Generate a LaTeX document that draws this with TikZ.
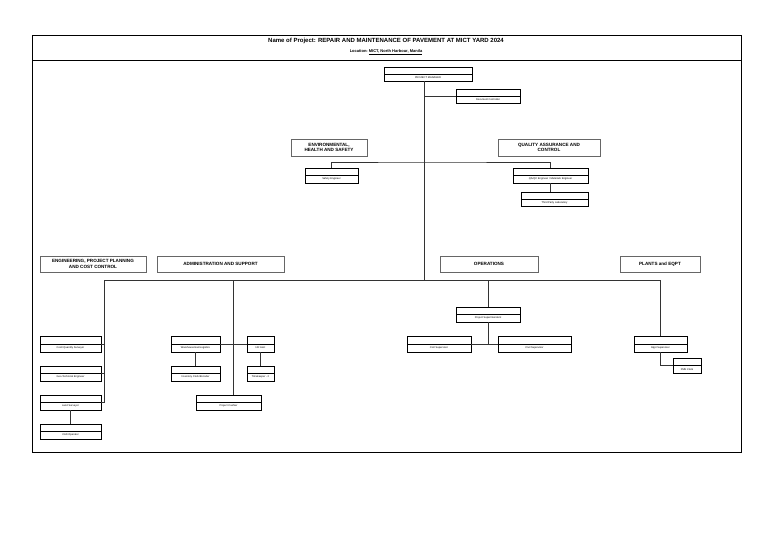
\documentclass[tikz,border=0pt]{standalone}
\usepackage{fontspec}
\setmainfont{Liberation Sans}
\usetikzlibrary{positioning}
\tikzset{
  staffbox/.style={draw, line width=.4pt, inner sep=0pt, path picture={
      \draw[line width=.3pt] (path picture bounding box.west) -- (path picture bounding box.east);}},
  stafftext/.style={font=\fontsize{2.6}{3}\selectfont, inner sep=0pt},
  headbox/.style={draw=gray!80!black, line width=.8pt, inner sep=1pt, align=center,
      font=\fontsize{4.6}{5.6}\selectfont\bfseries},
  link/.style={line width=.5pt, gray!40!black}
}
% box from (x1,y1) to (x2,y2), label in lower half
\newcommand\staff[6]{%
  \node[staffbox, minimum width=#4-#2, minimum height=#5-#3] (#1) at ({(#2+#4)/2},{(#3+#5)/2}) {};
  \node[stafftext] at ({(#2+#4)/2},{#3+(#5-#3)*.75}) {#6};}
\newcommand\head[6]{%
  \node[headbox, minimum width=#4-#2, minimum height=#5-#3] (#1) at ({(#2+#4)/2},{(#3+#5)/2}) {#6};}
\begin{document}
\begin{tikzpicture}[x=1pt, y=-1pt]
  \useasboundingbox (0,0) rectangle (768,543);
  \draw[line width=.8pt] (32,35) rectangle (741,452);
  \draw[line width=.5pt] (32,60) -- (741,60);
  \node[font=\fontsize{6}{7}\selectfont\bfseries] (title) at (386,41) {Name of Project: REPAIR AND MAINTENANCE OF PAVEMENT AT MICT YARD 2024};
  \node[font=\fontsize{4}{5}\selectfont\bfseries] (loc) at (386,52) {Location:\ \underline{MICT, North Harbour, Manila}};
  % top
  \staff{pm}{384}{67}{472}{81}{PROJECT MANAGER}
  \staff{doc}{456}{89}{520}{103}{Document Controller}
  \head{ehs}{291}{139}{367}{156}{ENVIRONMENTAL,\\HEALTH AND SAFETY}
  \head{qa}{498}{139}{600}{156}{QUALITY ASSURANCE AND\\CONTROL}
  \staff{safe}{305}{168}{358}{183}{Safety Engineer}
  \staff{qaqc}{513}{168}{588}{183}{QA/QC Engineer / Materials Engineer}
  \staff{lab}{521}{192}{588}{206}{Third Party Laboratory}
  % departments
  \head{eng}{40}{256}{146}{272}{ENGINEERING, PROJECT PLANNING\\AND COST CONTROL}
  \head{adm}{157}{256}{284}{272}{ADMINISTRATION AND SUPPORT}
  \head{ops}{440}{256}{538}{272}{OPERATIONS}
  \head{plt}{620}{256}{700}{272}{PLANTS and EQPT}
  % engineering
  \staff{qs}{40}{336}{101}{352}{Cost/ Quantity Surveyor}
  \staff{geo}{40}{366}{101}{381}{Geo-Technical Engineer}
  \staff{land}{40}{395}{101}{410}{Land Surveyor}
  \staff{cad}{40}{424}{101}{439}{CAD Operator}
  % admin
  \staff{ware}{171}{336}{220}{352}{Warehouseman/Logistics}
  \staff{hr}{247}{336}{274}{352}{HR Asst}
  \staff{inv}{171}{366}{220}{381}{Inventory Clerk/Encoder}
  \staff{time}{247}{366}{274}{381}{Timekeeper - 2}
  \staff{cash}{196}{395}{261}{410}{Project Cashier}
  % operations
  \staff{sup}{456}{307}{520}{322}{Project Superintendent}
  \staff{civa}{407}{336}{471}{352}{Civil Supervisor}
  \staff{civb}{498}{336}{571}{352}{Civil Supervisor}
  % plants
  \staff{eqs}{634}{336}{687}{352}{Eqpt Supervisor}
  \staff{pme}{673}{358}{701}{373}{PME Clerk}
  % connectors
  \coordinate (mid) at (424,162);
  \coordinate (bar) at (424,280);
  \coordinate (engx) at (104,280);
  \coordinate (admx) at (233,280);
  \coordinate (pltx) at (660,280);
  \draw[link] (pm.south -| bar) -- (bar);
  \draw[link] (doc.west) -- (doc.west -| bar);
  \draw[link] (safe.north) |- (mid) -| (qaqc.north);
  \draw[link] (qaqc.south) -- (qaqc.south |- lab.north);
  \draw[link] (engx) -- (pltx);
  \draw[link] (engx) |- (land.east);
  \draw[link] (qs.east) -- (qs.east -| engx);
  \draw[link] (geo.east) -- (geo.east -| engx);
  \draw[link] (land) -- (cad);
  \draw[link] (admx) -- (admx |- cash.north);
  \draw[link] (ware.east) -- (hr.west);
  \draw[link] (ware) -- (inv);
  \draw[link] (hr) -- (time);
  \draw[link] (sup.north |- bar) -- (sup.north);
  \draw[link] (sup.south) -- (sup.south |- civa.east);
  \draw[link] (civa.east) -- (civb.west);
  \draw[link] (pltx) -- (pltx |- eqs.north);
  \draw[link] (pltx |- eqs.south) |- (pme.west);
\end{tikzpicture}
\end{document}
